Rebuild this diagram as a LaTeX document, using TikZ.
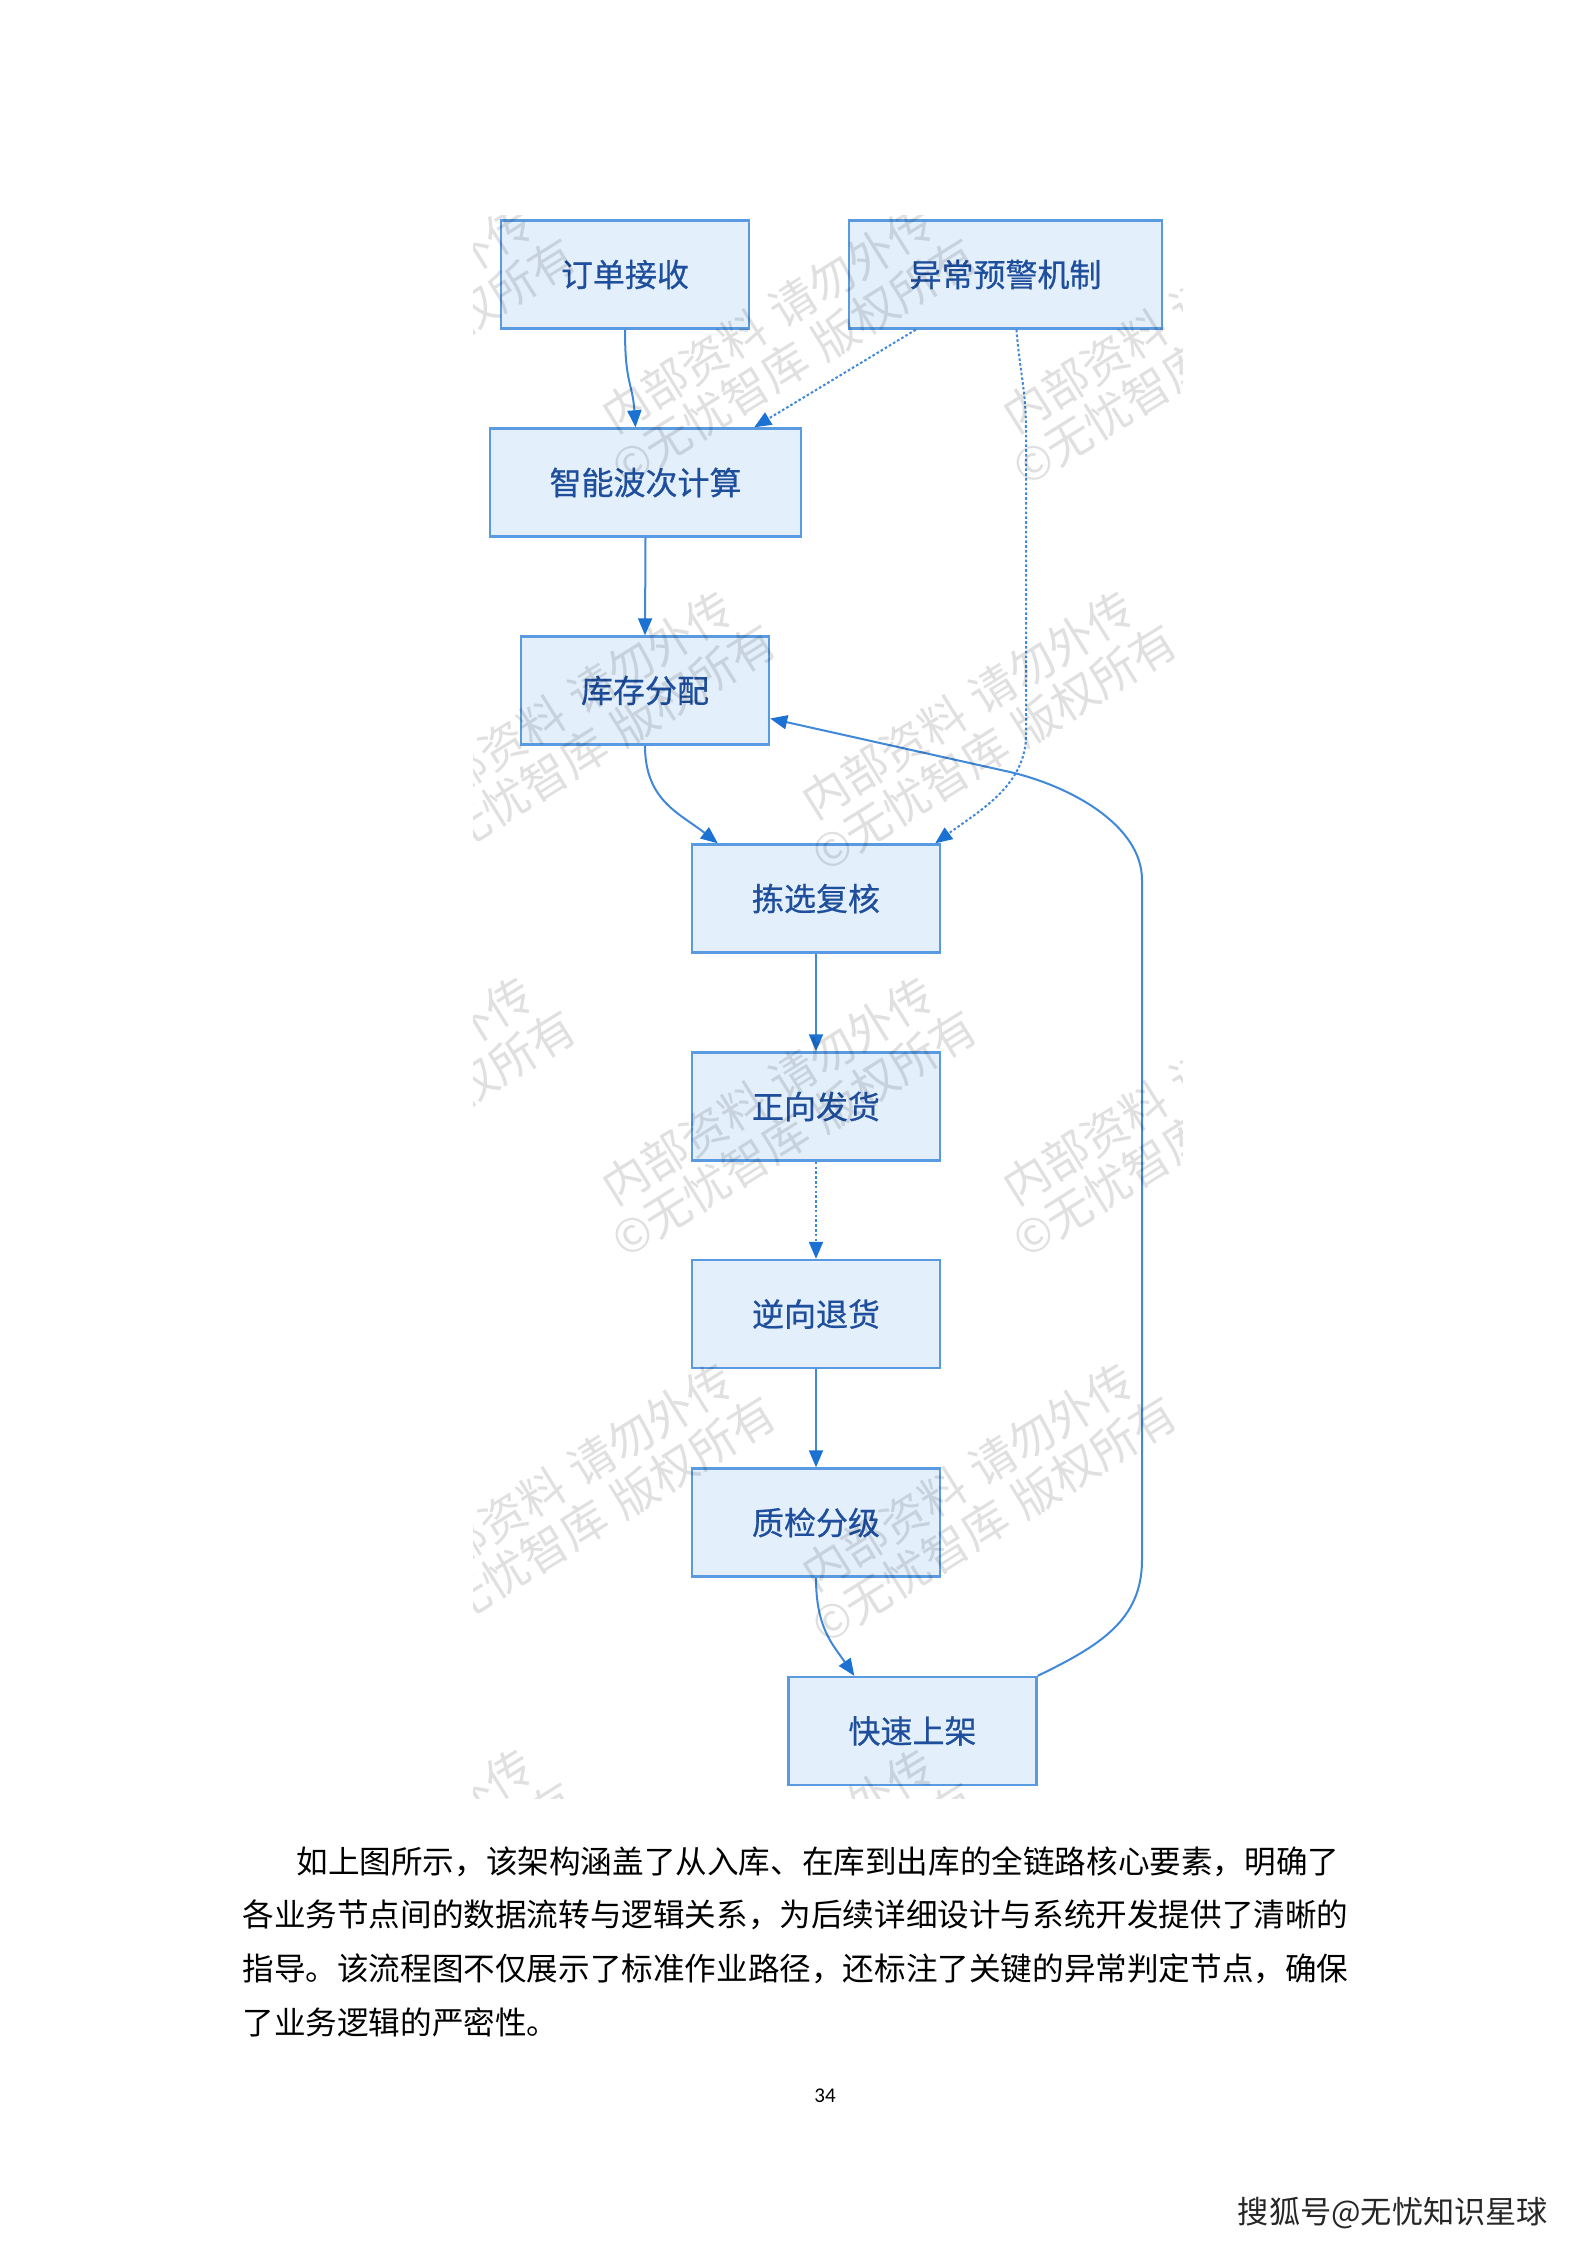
\documentclass[tikz,border=0pt]{standalone}
\usepackage{fontspec}
\newfontfamily\cjk{Noto Sans CJK SC}
\newfontfamily\cjkmed[FakeBold=0.6]{Noto Sans CJK SC}
\newfontfamily\pagefont{Carlito}
\usetikzlibrary{arrows.meta,calc}
\definecolor{boxfill}{HTML}{E3F0FC}
\definecolor{boxline}{HTML}{5A9AE0}
\definecolor{boxtext}{HTML}{1E4E9C}
\definecolor{conn}{HTML}{3F88DA}
\definecolor{tipc}{HTML}{1C72D2}
\begin{document}
\begin{tikzpicture}[x=0.5pt,y=-0.5pt,
  procbox/.style={draw=boxline, fill=boxfill, line width=1.2pt, minimum height=54pt, inner sep=0pt,
    font=\cjkmed\fontsize{16pt}{19pt}\selectfont, text=boxtext},
  flow/.style={draw=conn, line width=1pt, -{Triangle[length=8.5pt,width=7pt,color=tipc]}},
  dotflow/.style={flow, dash pattern=on 1.3pt off 1.1pt},
  wmark/.style={rotate=32, text=black, text opacity=0.12, align=center, inner sep=0pt,
    font=\cjk\fontsize{23pt}{25pt}\selectfont},
  bodyline/.style={anchor=west, inner sep=0pt, font=\cjk\fontsize{15.8pt}{20pt}\selectfont}
]
\fill[white] (0,0) rectangle (1587,2245);
\useasboundingbox (0,0) rectangle (1587,2245);

% boxes
\node[procbox, minimum width=124pt]   (r1) at (625,274.5)   {订单接收};
\node[procbox, minimum width=156.5pt] (r2) at (1005.5,274.5) {异常预警机制};
\node[procbox, minimum width=155.5pt] (r3) at (645.5,482.5) {智能波次计算};
\node[procbox, minimum width=124pt]   (r4) at (645,690.5)   {库存分配};
\node[procbox, minimum width=124pt]   (r5) at (816,898.5)   {拣选复核};
\node[procbox, minimum width=124pt]   (r6) at (816,1106.5)  {正向发货};
\node[procbox, minimum width=124pt]   (r7) at (816,1314)    {逆向退货};
\node[procbox, minimum width=124pt]   (r8) at (816,1522.5)  {质检分级};
\node[procbox, minimum width=124pt]   (r9) at (912.5,1731)  {快速上架};

% connectors
\draw[flow] (r1.south) .. controls +(0,55) and +(-3,-45) .. ($(r3.north)+(-10,0)$);
\draw[dotflow] ($(r2.south west)+(68,0)$) -- ($(r3.north east)+(-48,0)$);
\coordinate (d1) at (1026,430);
\coordinate (d2) at (1026,735);
\draw[dotflow] ($(r2.south)+(11,0)$) .. controls +(3,40) and +(0,-40) .. (d1) -- (d2)
  .. controls +(0,50) and +(45,-33) .. ($(r5.north east)+(-6,0)$);
\draw[flow] (r3.south) -- (r4.north);
\draw[flow] (r4.south) .. controls +(0,55) and +(-38,-30) .. ($(r5.north west)+(27,0)$);
\draw[flow] (r5.south) -- (r6.north);
\draw[dotflow] (r6.south) -- (r7.north);
\draw[flow] (r7.south) -- (r8.north);
\draw[flow] (r8.south) .. controls +(0,50) and +(-22,-32) .. ($(r9.north west)+(67,0)$);
\coordinate (l1) at (1142,1560);
\coordinate (l2) at (1142,880);
\coordinate (l3) at (1010,772);
\draw[flow] (r9.north east) .. controls +(62,-30) and +(0,60) .. (l1) -- (l2)
  .. controls +(0,-55) and +(60,14) .. (l3) -- ($(r4.east)+(0,28)$);

% watermarks
\begin{scope}
\clip (473,215) rectangle (1182,1798);
\foreach \x/\y [count=\i] in {380/340, 781/340, 1182/340,
                               580/726, 981/726,
                               380/1112, 781/1112, 1182/1112,
                               580/1498, 981/1498,
                               380/1884, 781/1884, 1182/1884}
  \node[wmark] (wm\i) at (\x,\y) {内部资料\hspace{0.3em}请勿外传\\©无忧智库\hspace{0.3em}版权所有};
\end{scope}

% body text
\node[bodyline] (p1) at (296,1862) {如上图所示，该架构涵盖了从入库、在库到出库的全链路核心要素，明确了};
\node[bodyline] (p2) at (242,1915) {各业务节点间的数据流转与逻辑关系，为后续详细设计与系统开发提供了清晰的};
\node[bodyline] (p3) at (242,1969) {指导。该流程图不仅展示了标准作业路径，还标注了关键的异常判定节点，确保};
\node[bodyline] (p4) at (242,2022) {了业务逻辑的严密性。};

\node[inner sep=0pt, font=\pagefont\fontsize{10.5pt}{12pt}\selectfont] (pg) at (825,2096) {34};
\node[inner sep=0pt, text=black!85, font=\cjk\fontsize{15.6pt}{18pt}\selectfont] (sohu) at (1393,2213) {搜狐号@无忧知识星球};
\end{tikzpicture}
\end{document}
